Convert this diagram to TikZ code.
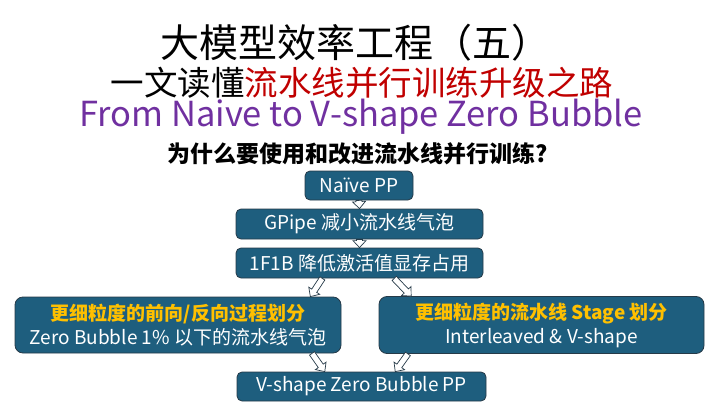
\documentclass[tikz,border=0pt]{standalone}
\usepackage{fontspec}
\setmainfont{Noto Sans CJK SC}
\usepackage{xcolor}
\usetikzlibrary{calc}

\definecolor{boxblue}{RGB}{30,94,126}
\definecolor{boxline}{RGB}{38,58,72}
\definecolor{titlered}{RGB}{192,0,0}
\definecolor{titlepurple}{RGB}{112,48,160}
\definecolor{stepyellow}{RGB}{255,192,0}

\tikzset{
  pbox/.style={draw=boxline, line width=0.8pt, fill=boxblue, rounded corners=5pt,
    text=white, inner sep=0pt, align=center, font=\fontsize{19}{24}\selectfont},
  blockarr/.style={draw=boxline, fill=white, line width=0.7pt, line join=miter},
}

% hollow block arrow from #1 to #2
\newcommand{\blockarrow}[2]{%
  \path[blockarr] let \p1=($(#2)-(#1)$), \n1={atan2(\y1,\x1)}, \n2={veclen(\x1,\y1)} in
    ($(#1)+(\n1-90:3pt)$) -- ($(#1)+(\n1:{(\n2-7)*1pt})+(\n1-90:3pt)$)
    -- ($(#1)+(\n1:{(\n2-7)*1pt})+(\n1-90:6.5pt)$) -- (#2)
    -- ($(#1)+(\n1:{(\n2-7)*1pt})+(\n1+90:6.5pt)$) -- ($(#1)+(\n1:{(\n2-7)*1pt})+(\n1+90:3pt)$)
    -- ($(#1)+(\n1+90:3pt)$) -- cycle;}

\begin{document}
\begin{tikzpicture}[x=1pt,y=1pt]
\useasboundingbox (0,0) rectangle (720,405);

% titles
\node (t1) at (355,362) {\fontsize{39}{39}\selectfont 大模型效率工程（五）};
\node (t2) at (362,322) {\fontsize{33.5}{33.5}\selectfont 一文读懂{\color{titlered}流水线并行训练升级之路}};
\node[text=titlepurple] (t3) at (361,288) {\fontsize{34.5}{34.5}\selectfont From Naive to V-shape Zero Bubble};
\node (t4) at (358,251) {\fontsize{23}{23}\selectfont\bfseries 为什么要使用和改进流水线并行训练?};

% boxes
\node[pbox, minimum width=108pt, minimum height=29pt] (naive) at (359,219.5) {Naïve PP};
\node[pbox, minimum width=247pt, minimum height=30pt] (gpipe) at (359.5,181) {GPipe 减小流水线气泡};
\node[pbox, minimum width=247pt, minimum height=30pt] (onefb) at (359.5,142) {1F1B 降低激活值显存占用};
\node[pbox, rounded corners=8pt, minimum width=326pt, minimum height=56pt] (fwdbwd) at (178,80)
  {{\color{stepyellow}\bfseries 更细粒度的前向/反向过程划分}\\Zero Bubble 1\% 以下的流水线气泡};
\node[pbox, rounded corners=8pt, minimum width=325pt, minimum height=57pt] (stage) at (541.5,80)
  {{\color{stepyellow}\bfseries 更细粒度的流水线 Stage 划分}\\Interleaved \& V-shape};
\node[pbox, minimum width=249pt, minimum height=29pt] (vzb) at (361.5,18.5) {V-shape Zero Bubble PP};

% arrows
\blockarrow{naive.south}{gpipe.north}
\blockarrow{gpipe.south}{onefb.north}
\blockarrow{$(onefb.south west)!0.35!(onefb.south east)$}{$(fwdbwd.north west)!0.905!(fwdbwd.north east)$}
\blockarrow{$(onefb.south west)!0.64!(onefb.south east)$}{$(stage.north west)!0.10!(stage.north east)$}
\blockarrow{$(fwdbwd.south west)!0.91!(fwdbwd.south east)$}{$(vzb.north west)!0.353!(vzb.north east)$}
\blockarrow{$(stage.south west)!0.09!(stage.south east)$}{$(vzb.north west)!0.635!(vzb.north east)$}

\end{tikzpicture}
\end{document}
